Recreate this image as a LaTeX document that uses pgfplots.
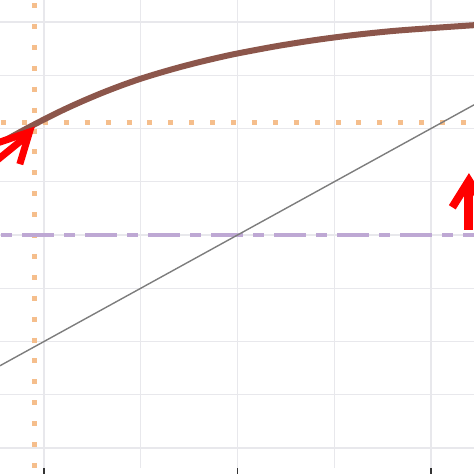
\documentclass[border=0pt]{standalone}
\usepackage{pgfplots}
\pgfplotsset{compat=1.18}

\definecolor{curvebrown}{RGB}{140,86,75}
\definecolor{dotorange}{RGB}{245,190,140}
\definecolor{dashpurple}{RGB}{190,168,212}
\definecolor{linegray}{RGB}{125,125,125}
\definecolor{gridgray}{RGB}{232,232,236}

\begin{document}
\begin{tikzpicture}
    \begin{axis}[
        at={(0pt,6pt)}, anchor=south west,
        scale only axis,
        width=474pt, height=468pt,
        xmin=-0.2274, xmax=2.2222,
        ymin=-0.3756, ymax=8.413,
        axis line style={draw=none},
        xtick={0,1,2}, xticklabels={},
        minor xtick={0.5,1.5},
        ytick={0,...,8}, yticklabels={},
        xtick pos=lower,
        tick align=outside,
        major tick length=9pt, minor tick length=0pt,
        x tick style={draw=black!80, line width=1.3pt},
        y tick style={draw=none},
        grid=both,
        major grid style={gridgray, line width=1.2pt},
        minor grid style={gridgray, line width=1.2pt},
        clip=true,
    ]
        % orange dotted guide lines
        \addplot[no marks, dotorange, line width=5pt,
            dash pattern=on 5pt off 15.9pt, dash phase=19.8pt]
            coordinates {(-0.2274,6.117) (2.2222,6.117)};
        \addplot[no marks, dotorange, line width=5pt,
            dash pattern=on 5pt off 15.9pt, dash phase=17.8pt]
            coordinates {(-0.049,8.413) (-0.049,-0.3756)};

        % purple dash-dot level
        \addplot[no marks, dashpurple, line width=4pt,
            dash pattern=on 31.7pt off 10.3pt on 11pt off 10pt, dash phase=41pt]
            coordinates {(-0.2274,4) (2.2222,4)};

        % gray straight line
        \addplot[no marks, linegray, line width=1.4pt]
            coordinates {(-0.2274,1.545) (2.2222,6.444)};

        % brown curve
        \addplot[no marks, curvebrown, line width=6pt, smooth]
            coordinates {
                (-0.2,5.78) (-0.1,5.98) (0.0,6.17) (0.1,6.35) (0.2,6.515)
                (0.3,6.668) (0.4,6.808) (0.5,6.935) (0.6,7.047) (0.7,7.15)
                (0.8,7.244) (0.9,7.33) (1.0,7.409) (1.2,7.545) (1.4,7.66)
                (1.6,7.755) (1.8,7.83) (2.0,7.885) (2.222,7.94)
            };

        % red arrows
        \draw[red, line width=7pt, line cap=butt]
            (axis cs:-0.305,5.22) -- (axis cs:-0.075,5.90);
        \draw[red, line width=7pt, line cap=butt, line join=miter]
            (axis cs:-0.24,5.73) -- (axis cs:-0.075,5.934) -- (axis cs:-0.125,5.33);
        \draw[red, line width=9pt, line cap=butt]
            (axis cs:2.196,4.10) -- (axis cs:2.196,5.00);
        \draw[red, line width=8pt, line cap=butt, line join=miter]
            (axis cs:2.110,4.52) -- (axis cs:2.196,5.02) -- (axis cs:2.282,4.52);
    \end{axis}
    \pgfresetboundingbox
    \useasboundingbox (0,0) rectangle (474pt,474pt);
\end{tikzpicture}
\end{document}
